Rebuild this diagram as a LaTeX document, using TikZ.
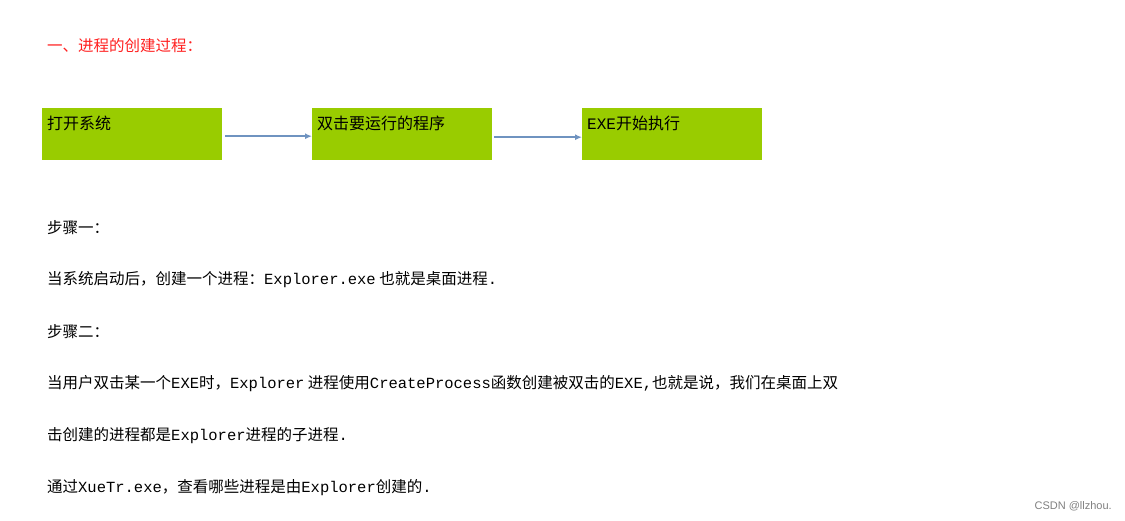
\documentclass[tikz,border=0pt]{standalone}
\usepackage{fontspec}
\setmainfont{Noto Sans CJK SC}
\newfontfamily\lat{Liberation Mono}
\newfontfamily\wm{Liberation Sans}
\definecolor{boxg}{HTML}{99CC00}
\definecolor{arr}{HTML}{6F93C0}
\definecolor{ttl}{HTML}{FF2020}
\usetikzlibrary{arrows.meta}
\tikzset{
  stepbox/.style={fill=boxg,minimum width=180pt,minimum height=52pt,anchor=north west,inner sep=0},
  boxtxt/.style={anchor=west,inner sep=0,font=\fontsize{16pt}{18pt}\selectfont},
  line/.style={anchor=west,inner sep=0,font=\fontsize{15.5pt}{18pt}\selectfont},
  conn/.style={draw=arr,line width=1.4pt,-{Latex[length=7pt,width=6pt]}}
}
\begin{document}
\begin{tikzpicture}[x=1pt,y=-1pt]
\useasboundingbox (0,0) rectangle (1125,521);
\node[line,text=ttl] (t) at (47,46) {一、进程的创建过程：};
\node[stepbox] (b1) at (42,108) {};
\node[stepbox] (b2) at (312,108) {};
\node[stepbox] (b3) at (582,108) {};
\node[boxtxt] (l1) at (47,123) {打开系统};
\node[boxtxt] (l2) at (317,123) {双击要运行的程序};
\node[boxtxt] (l3) at (587,123) {{\lat EXE}开始执行};
\draw[conn] ([xshift=3pt,yshift=-2pt]b1.east) -- ([yshift=-2pt]b2.west);
\draw[conn] ([xshift=2pt,yshift=-3pt]b2.east) -- ([yshift=-3pt]b3.west);
\node[line] (s1) at (47,228) {步骤一：};
\node[line] (p1) at (47,280) {当系统启动后，创建一个进程：{\lat Explorer.exe} 也就是桌面进程{\lat .}};
\node[line] (s2) at (47,332) {步骤二：};
\node[line] (p2) at (47,384) {当用户双击某一个{\lat EXE}时，{\lat Explorer} 进程使用{\lat CreateProcess}函数创建被双击的{\lat EXE,}也就是说，我们在桌面上双};
\node[line] (p3) at (47,436) {击创建的进程都是{\lat Explorer}进程的子进程{\lat .}};
\node[line] (p4) at (47,488) {通过{\lat XueTr.exe}，查看哪些进程是由{\lat Explorer}创建的{\lat .}};
\node[anchor=east,inner sep=0,text=gray,font=\wm\fontsize{11pt}{13pt}\selectfont] (w) at (1112,506) {CSDN @llzhou.};
\end{tikzpicture}
\end{document}
